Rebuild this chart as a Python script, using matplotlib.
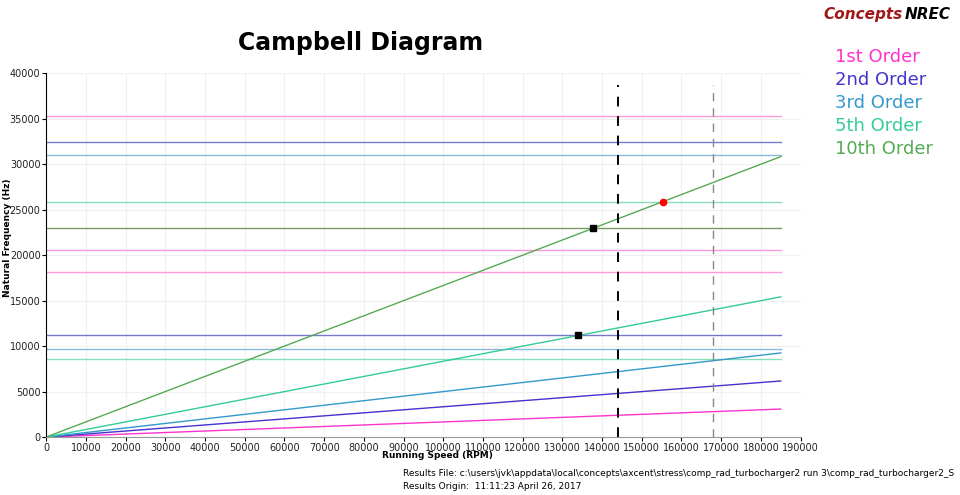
import numpy as np
import matplotlib.pyplot as plt

# Campbell diagram: engine orders vs natural frequencies

rpm_span = [0, 185000]

orders = ["1st Order", "2nd Order", "3rd Order", "5th Order", "10th Order"]
order_freq_end = [3083, 6167, 9250, 15417, 30833]  # Hz at 185000 rpm
order_colors = ['#ff33cc', '#4433cc', '#3399cc', '#33cc99', '#55aa55']

# natural frequencies (Hz) and their colours
nat_freq = [35300, 32400, 31050, 25900, 22950, 20600, 18150, 11170, 9650, 8630]
nat_colors = ['#ff99dd', '#7777cc', '#88bbdd', '#88ddbb', '#779966',
              '#ff99dd', '#ff99dd', '#7777cc', '#88bbdd', '#88ddbb']

# crossing points
cross_rpm = [137700, 134040, 155400]
cross_freq = [22950, 11170, 25900]
cross_colors = ['black', 'black', 'red']

speed_lines = [144000, 168000]

fig = plt.figure(figsize=(9.6, 4.95), dpi=100)
ax = fig.add_axes([0.048, 0.117, 0.786, 0.735])

for f, c in zip(nat_freq, nat_colors):
    ax.plot(rpm_span, [f, f], color=c, lw=1)

for name, fe, c in zip(orders, order_freq_end, order_colors):
    ax.plot(rpm_span, [0, fe], color=c, lw=1)

ax.plot([speed_lines[0]] * 2, [0, 38700], color='black', lw=1.4, ls=(0, (5, 5)))
ax.plot([speed_lines[1]] * 2, [0, 38700], color='#888888', lw=1, ls=(0, (6, 5)))

for r, f, c in zip(cross_rpm, cross_freq, cross_colors):
    ax.plot(r, f, marker='s' if c == 'black' else 'o', color=c, ms=4.5)

ax.set_xlim(0, 190000)
ax.set_ylim(0, 40000)
ax.set_xticks(np.arange(0, 190001, 10000))
ax.set_yticks(np.arange(0, 40001, 5000))
ax.tick_params(labelsize=7, length=3, width=0.8, pad=1, labelcolor='#222222')
ax.grid(True, color='#f0f0f0', lw=0.8)
ax.set_axisbelow(True)
for s in ['top', 'right']:
    ax.spines[s].set_visible(False)
ax.spines['bottom'].set_color('#999999')
ax.spines['left'].set_color('black')

fig.text(0.376, 0.913, "Campbell Diagram", fontsize=17, fontweight='bold',
         ha='center', va='center')
fig.text(0.456, 0.080, "Running Speed (RPM)", fontsize=6.5, fontweight='bold',
         ha='center', va='center')
fig.text(0.008, 0.52, "Natural Frequency (Hz)", fontsize=6.5, fontweight='bold',
         rotation=90, ha='center', va='center')

for i, (name, c) in enumerate(zip(orders, order_colors)):
    fig.text(0.870, 0.884 - i * 0.0465, name, fontsize=13, color=c,
             ha='left', va='center')

fig.text(0.858, 0.970, "Concepts", fontsize=11, fontweight='bold',
         fontstyle='italic', color='#a01818', ha='left', va='center')
fig.text(0.942, 0.970, "NREC", fontsize=11, fontweight='bold',
         fontstyle='italic', color='black', ha='left', va='center')

fig.text(0.420, 0.043,
         "Results File: c:\\users\\jvk\\appdata\\local\\concepts\\axcent\\stress\\comp_rad_turbocharger2 run 3\\comp_rad_turbocharger2_S",
         fontsize=6.5, ha='left', va='center')
fig.text(0.420, 0.018, "Results Origin:  11:11:23 April 26, 2017",
         fontsize=6.5, ha='left', va='center')

fig.savefig("out.png", dpi=100)
